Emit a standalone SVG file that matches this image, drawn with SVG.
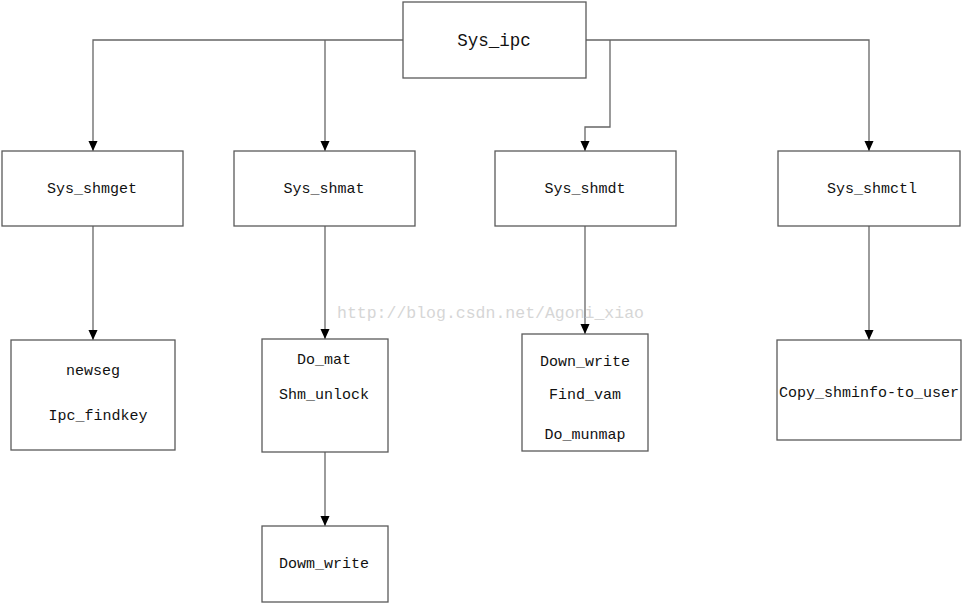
<svg xmlns="http://www.w3.org/2000/svg" width="964" height="605" viewBox="0 0 964 605">
<style>
.box{fill:#fff;stroke:#5a5a5a;stroke-width:1.3}
.t{font-family:"Liberation Mono","Noto Sans CJK SC",monospace;font-size:15px;fill:#111;text-anchor:middle}
.c{fill:none;stroke:#666;stroke-width:1.3}
.wm{font-family:"Liberation Mono",monospace;font-size:16.5px;fill:#d6d6d6}
</style>
<defs>
<marker id="ar" markerWidth="10" markerHeight="10" refX="5" refY="10" orient="auto" markerUnits="userSpaceOnUse" viewBox="0 0 10 10">
<path d="M0,0 L10,0 L5,10 Z" fill="#000" transform="rotate(-90 5 5)"/>
</marker>
<marker id="a" markerWidth="10" markerHeight="11" refX="11" refY="5" orient="auto" markerUnits="userSpaceOnUse" viewBox="0 0 11 10">
<path d="M0,0 L11,5 L0,10 Z" fill="#000"/>
</marker>
</defs>
<g id="connectors">
<path class="c" d="M403,40 H93 V151" marker-end="url(#a)"/>
<path class="c" d="M325,40 V151" marker-end="url(#a)"/>
<path class="c" d="M586,40 H869 V151" marker-end="url(#a)"/>
<path class="c" d="M610,40 V127 H585 V151" marker-end="url(#a)"/>
<path class="c" d="M93,226 V340" marker-end="url(#a)"/>
<path class="c" d="M325,226 V339" marker-end="url(#a)"/>
<path class="c" d="M325,452 V526" marker-end="url(#a)"/>
<path class="c" d="M585,226 V334" marker-end="url(#a)"/>
<path class="c" d="M869,226 V340" marker-end="url(#a)"/>
</g>
<g id="sys_ipc"><rect class="box" x="403" y="2" width="183" height="76"/><text class="t" x="494" y="46" style="font-size:17.5px">Sys_ipc</text></g>
<g id="sys_shmget"><rect class="box" x="2" y="151" width="181" height="75"/><text class="t" x="92" y="193">Sys_shmget</text></g>
<g id="sys_shmat"><rect class="box" x="234" y="151" width="181" height="75"/><text class="t" x="324" y="193">Sys_shmat</text></g>
<g id="sys_shmdt"><rect class="box" x="495" y="151" width="181" height="75"/><text class="t" x="585" y="193">Sys_shmdt</text></g>
<g id="sys_shmctl"><rect class="box" x="778" y="151" width="182" height="75"/><text class="t" x="872" y="193">Sys_shmctl</text></g>
<g id="newseg"><rect class="box" x="11" y="340" width="164" height="110"/><text class="t" x="93" y="375">newseg</text><text class="t" x="98" y="420">Ipc_findkey</text></g>
<g id="do_mat"><rect class="box" x="262" y="339" width="126" height="113"/><text class="t" x="324" y="364">Do_mat</text><text class="t" x="324" y="399">Shm_unlock</text></g>
<g id="dowm_write"><rect class="box" x="262" y="526" width="126" height="76"/><text class="t" x="324" y="568">Dowm_write</text></g>
<g id="down_write"><rect class="box" x="522" y="334" width="126" height="117"/><text class="t" x="585" y="366">Down_write</text><text class="t" x="585" y="399">Find_vam</text><text class="t" x="585" y="439">Do_munmap</text></g>
<g id="copy"><rect class="box" x="777" y="340" width="184" height="100"/><text class="t" x="869" y="397">Copy_shminfo-to_user</text></g>
<text class="wm" x="337" y="318">http://blog.csdn.net/Agoni_xiao</text>
</svg>
